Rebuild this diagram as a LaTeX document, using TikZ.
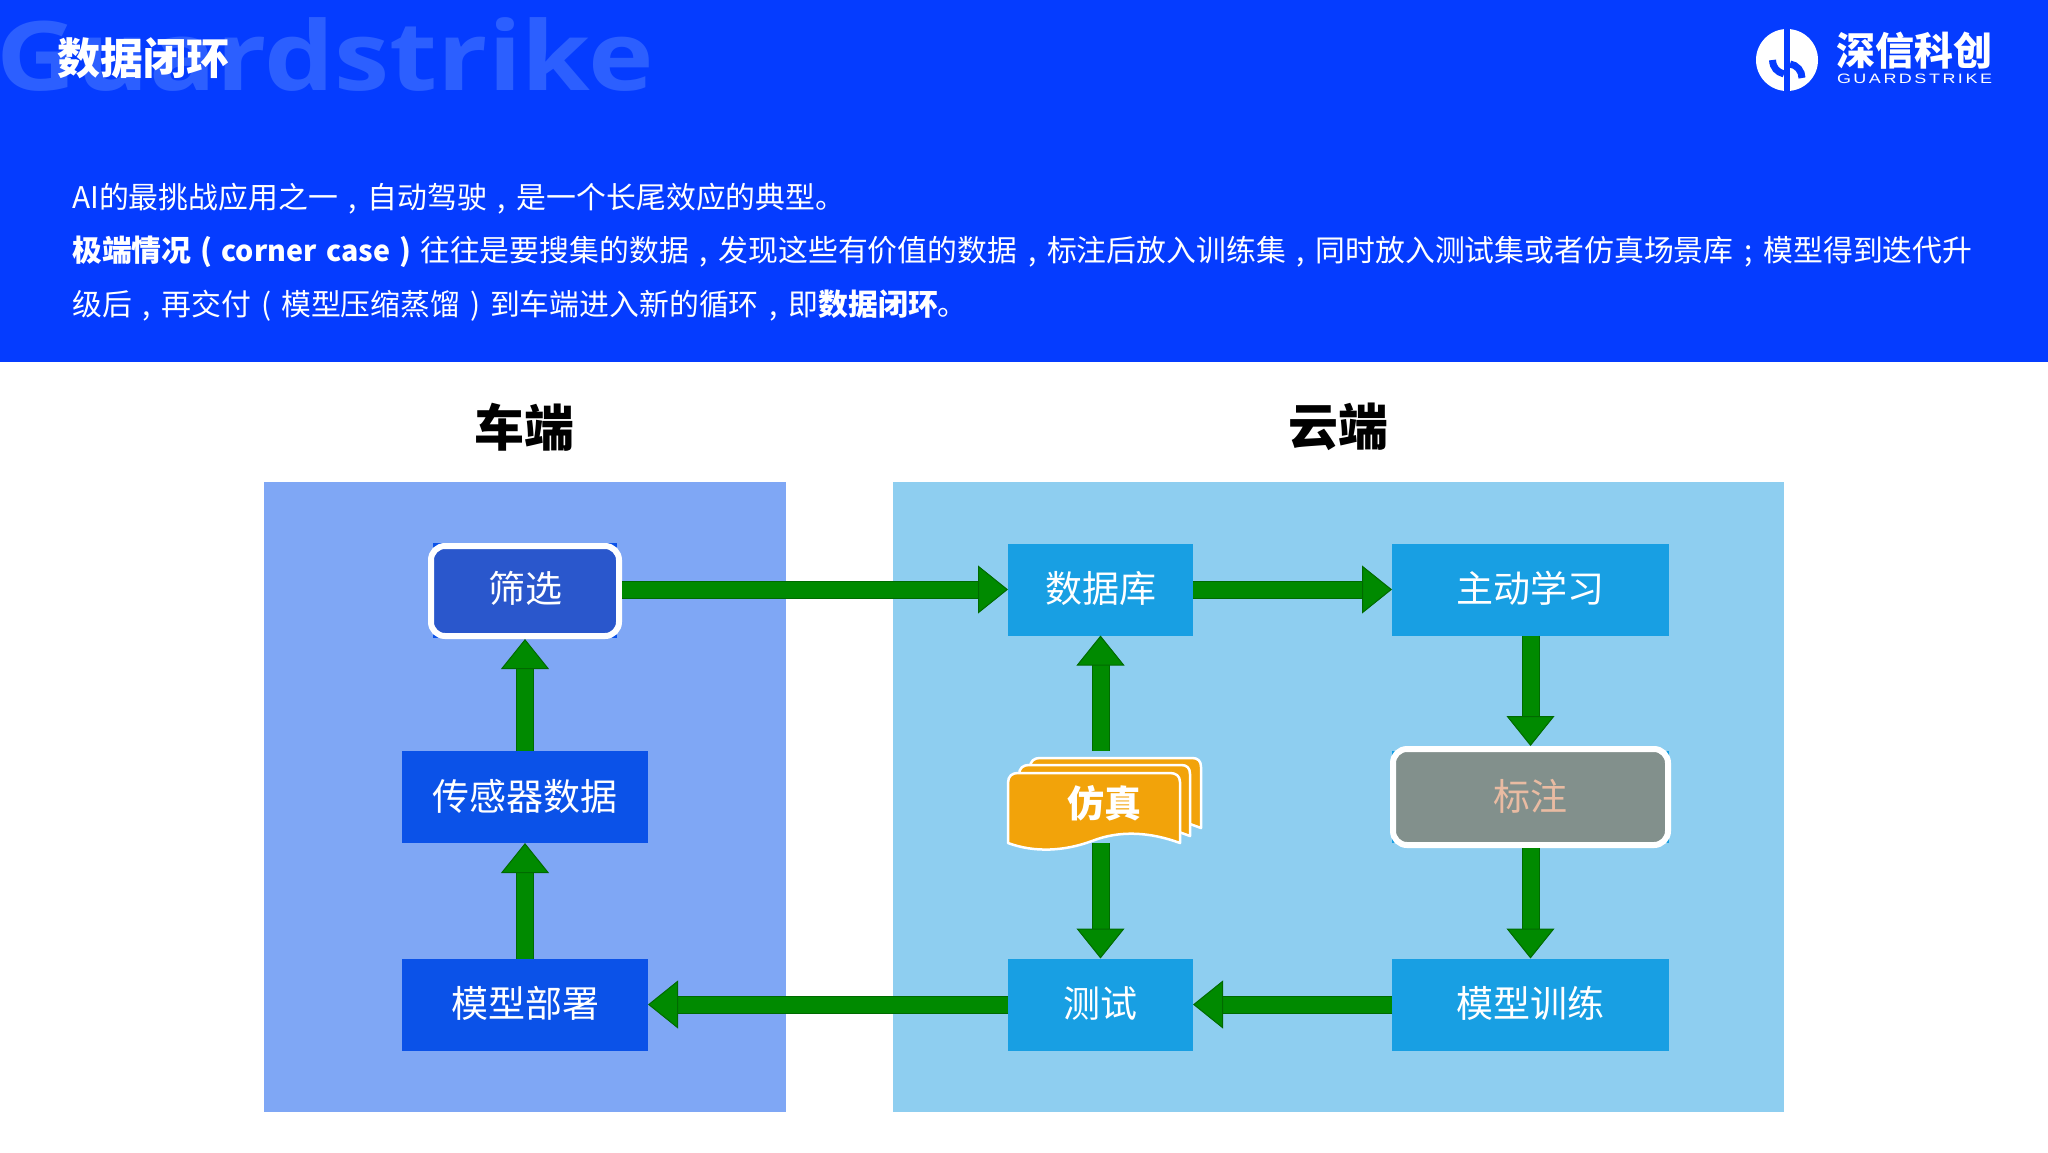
\documentclass[tikz,border=0pt]{standalone}
\usepackage{fontspec}
\usepackage{graphicx}
\setmainfont{Noto Sans CJK SC}
\newfontfamily\markfont{Open Sans}
\newfontfamily\logofont[LetterSpace=14]{Liberation Sans}
\usetikzlibrary{arrows.meta}
\newcommand\zcomma{\makebox[1em]{,}}
\newcommand\zsemi{\makebox[1em]{;}}
\newcommand\zopen{\makebox[1em]{(}}
\newcommand\zclose{\makebox[1em]{)}}
\definecolor{hdr}{HTML}{053CFF}
\definecolor{wm}{HTML}{2C5FFF}
\definecolor{panL}{HTML}{7FA7F5}
\definecolor{panR}{HTML}{8ECEF0}
\definecolor{carbox}{HTML}{0B52E8}
\definecolor{cloudbox}{HTML}{189FE3}
\definecolor{filtbox}{HTML}{2A57CC}
\definecolor{greybox}{HTML}{82908C}
\definecolor{peach}{HTML}{E9BBA2}
\definecolor{orng}{HTML}{F2A30A}
\definecolor{gshaft}{HTML}{008A00}
\definecolor{gedge}{HTML}{006A00}
\tikzset{
  x=1pt,y=-1pt,
  lab/.style={text=white,font=\fontsize{37}{37}\selectfont,inner sep=0pt,align=center,anchor=center,text height=33pt,text depth=7pt},
  carnode/.style={lab,fill=carbox,minimum width=246pt,minimum height=92pt,outer sep=0pt},
  cloudnode/.style={lab,fill=cloudbox,minimum height=92pt,outer sep=0pt},
  ringnode/.style={lab,draw=white,line width=6pt,rounded corners=14pt},
  flow/.style={draw=gshaft,line width=16pt,
    -{Triangle[length=30pt,width=48pt,line width=1pt,inset=0pt,color=gedge,fill=gshaft]},
    preaction={draw=gedge,line width=18pt,-,shorten >=29pt}},
  sheet/.style={draw=white,fill=orng,line width=2.5pt,line join=round},
  logocut/.style={draw=hdr,line width=7pt,line cap=butt},
}
\begin{document}
\begin{tikzpicture}
\useasboundingbox (0,0) rectangle (2048,1152);
\fill[white] (0,0) rectangle (2048,1152);
\fill[hdr] (0,0) rectangle (2048,362);
% watermark and title
\begin{scope}
\clip (0,0) rectangle (2048,362);
\node[anchor=base west,inner sep=0pt,text=wm,font=\markfont\bfseries\fontsize{96}{96}\selectfont] (mark) at (-4,90) {\scalebox{1.155}[1]{Guardstrike}};
\end{scope}
\node[anchor=center,inner sep=0pt,text=white,font=\bfseries\fontsize{43}{43}\selectfont] (title) at (143,58) {数据闭环};
% logo
\begin{scope}
\clip (1787,60) circle (31);
\fill[white] (1750,20) rectangle (1783.5,100);
\fill[white] (1790,20) rectangle (1825,100);
\draw[logocut] (1772.5,60) .. controls (1773,68) and (1777,72) .. (1784,74);
\draw[logocut] (1790,64) .. controls (1797,65) and (1802,71) .. (1802,78);
\end{scope}
\node[anchor=center,inner sep=0pt,text=white,font=\bfseries\fontsize{39}{39}\selectfont] (brand) at (1914.5,51) {深信科创};
\node[anchor=center,inner sep=0pt,text=white] (brandlat) at (1914.5,79) {\resizebox{155pt}{9.5pt}{\logofont GUARDSTRIKE}};
% body text
\node[anchor=north west,inner sep=0pt,text=white,align=left,text width=1960pt,font=\fontsize{29.85}{53.5}\selectfont] (body) at (72,182.5) {%
AI的最挑战应用之一\zcomma 自动驾驶\zcomma 是一个长尾效应的典型。\\
{\bfseries 极端情况\zopen{\fontsize{28.6}{53.5}\selectfont corner case}\zclose}往往是要搜集的数据\zcomma 发现这些有价值的数据\zcomma 标注后放入训练集\zcomma 同时放入测试集或者仿真场景库\zsemi 模型得到迭代升\\
级后\zcomma 再交付\zopen 模型压缩蒸馏\zclose 到车端进入新的循环\zcomma 即{\bfseries 数据闭环}。};
% panels
\fill[panL] (264,482) rectangle (786,1112);
\fill[panR] (893,482) rectangle (1784,1112);
\node[anchor=center,inner sep=0pt,font=\bfseries\fontsize{50}{50}\selectfont] (carhead) at (524,427) {车端};
\node[anchor=center,inner sep=0pt,font=\bfseries\fontsize{50}{50}\selectfont] (cloudhead) at (1338,427) {云端};
% square corners behind ring boxes
\fill[carbox] (433,543) rectangle (617,638);
\fill[cloudbox] (1392,751) rectangle (1669,843);
% car side nodes
\node[ringnode,fill=filtbox,minimum width=188pt,minimum height=90pt] (filter) at (525,591) {\raisebox{1.5pt}{筛选}};
\node[carnode] (sensor) at (525,797) {传感器数据};
\node[carnode] (deploy) at (525,1004.5) {模型部署};
% cloud side nodes
\node[cloudnode,minimum width=185pt] (db) at (1100.5,589.5) {数据库};
\node[cloudnode,minimum width=277pt] (active) at (1530.5,589.5) {主动学习};
\node[ringnode,fill=greybox,text=peach,minimum width=275pt,minimum height=96pt] (label) at (1530.5,797) {标注};
\node[cloudnode,minimum width=185pt] (test) at (1100.5,1004.5) {测试};
\node[cloudnode,minimum width=277pt] (train) at (1530.5,1004.5) {模型训练};
% simulation stack
\node[inner sep=0pt,outer sep=0pt,minimum width=185pt,minimum height=92pt] (sim) at (1100.5,797) {};
\draw[sheet] (1030,768) .. controls (1030,761) and (1034,758) .. (1040,758) -- (1192,758) .. controls (1198,758) and (1201,761) .. (1201,767) -- (1201,828) -- (1190,824) -- (1170,824) -- (1030,780) -- cycle;
\draw[sheet] (1019,775) .. controls (1019,768) and (1023,765) .. (1029,765) -- (1181,765) .. controls (1187,765) and (1190,768) .. (1190,774) -- (1190,836) -- (1179,832) -- (1019,790) -- cycle;
\draw[sheet] (1008,783) .. controls (1008,776) and (1012,773) .. (1018,773) -- (1170,773) .. controls (1176,773) and (1180,776) .. (1180,782) -- (1180,843) .. controls (1150,832) and (1120,830) .. (1092,841) .. controls (1065,851) and (1035,853) .. (1008,843) -- cycle;
\node[anchor=center,inner sep=0pt,text=white,font=\bfseries\fontsize{37}{37}\selectfont] (simtext) at (1104,803) {仿真};
% connectors
\draw[flow] (deploy) -- (sensor);
\draw[flow] (sensor) -- (filter);
\draw[flow] (filter.east |- db.west) -- (db.west);
\draw[flow] (db) -- (active);
\draw[flow] (active) -- (label);
\draw[flow] (label) -- (train);
\draw[flow] (train) -- (test);
\draw[flow] (test) -- (deploy);
\draw[flow] (sim) -- (db);
\draw[flow] (sim) -- (test);
\end{tikzpicture}
\end{document}
